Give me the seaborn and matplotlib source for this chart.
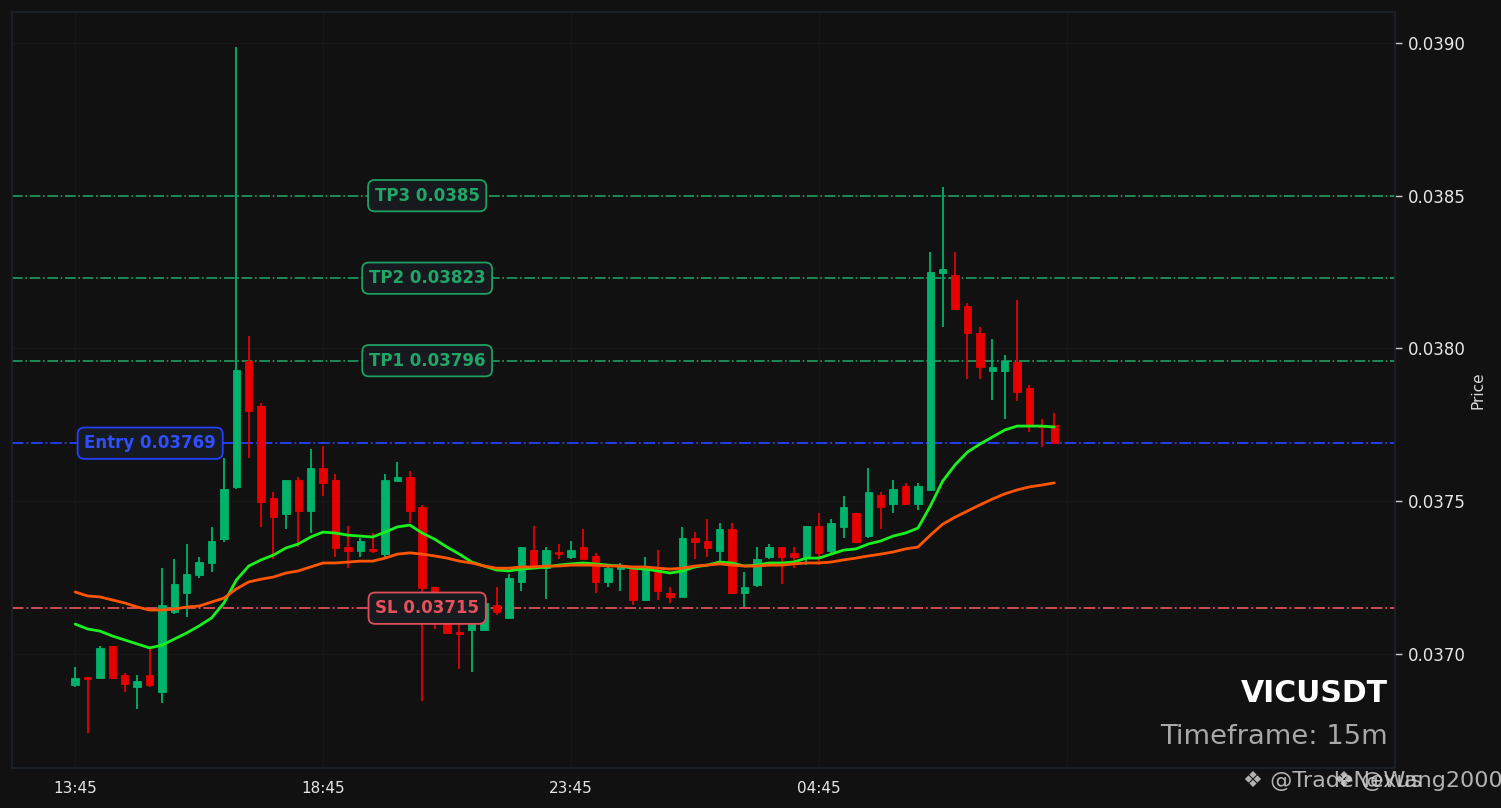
import numpy as np
import pandas as pd
import matplotlib
matplotlib.use("Agg")
import matplotlib.pyplot as plt
import seaborn as sns

# candle data (15m)
opens = [0.036899, 0.036921, 0.036921, 0.037026, 0.036931, 0.036892, 0.036931, 0.036876, 0.037137, 0.037200,
         0.037259, 0.037298, 0.037376, 0.037546, 0.037959, 0.037812, 0.037511, 0.037458, 0.037570, 0.037468,
         0.037609, 0.037570, 0.037350, 0.037337, 0.037340, 0.037327, 0.037566, 0.037579, 0.037481, 0.037219,
         0.037128, 0.037072, 0.037079, 0.037079, 0.037160, 0.037118, 0.037236, 0.037340, 0.037281, 0.037329,
         0.037317, 0.037350, 0.037321, 0.037236, 0.037278, 0.037281, 0.037177, 0.037268, 0.037200, 0.037187,
         0.037380, 0.037370, 0.037337, 0.037409, 0.037200, 0.037226, 0.037317, 0.037350, 0.037331, 0.037317,
         0.037419, 0.037337, 0.037416, 0.037461, 0.037386, 0.037520, 0.037491, 0.037550, 0.037491, 0.037537,
         0.038247, 0.038240, 0.038139, 0.038051, 0.037927, 0.037927, 0.037956, 0.037871, 0.037746, 0.037750]
highs = [0.036957, 0.036921, 0.037026, 0.037026, 0.036938, 0.036931, 0.037026, 0.037281, 0.037311, 0.037360,
         0.037317, 0.037416, 0.037641, 0.038987, 0.038041, 0.037822, 0.037530, 0.037570, 0.037579, 0.037671,
         0.037681, 0.037589, 0.037419, 0.037380, 0.037396, 0.037589, 0.037628, 0.037599, 0.037488, 0.037219,
         0.037137, 0.037118, 0.037160, 0.037177, 0.037219, 0.037262, 0.037350, 0.037419, 0.037350, 0.037360,
         0.037370, 0.037409, 0.037331, 0.037285, 0.037298, 0.037281, 0.037317, 0.037340, 0.037219, 0.037416,
         0.037399, 0.037442, 0.037429, 0.037429, 0.037268, 0.037350, 0.037360, 0.037350, 0.037350, 0.037419,
         0.037461, 0.037442, 0.037517, 0.037461, 0.037609, 0.037530, 0.037570, 0.037560, 0.037560, 0.038316,
         0.038528, 0.038316, 0.038149, 0.038070, 0.038031, 0.037979, 0.038159, 0.037880, 0.037769, 0.037789]
lows = [0.036892, 0.036741, 0.036921, 0.036921, 0.036876, 0.036820, 0.036892, 0.036840, 0.037131, 0.037121,
        0.037249, 0.037268, 0.037367, 0.037540, 0.037641, 0.037416, 0.037311, 0.037409, 0.037350, 0.037396,
        0.037517, 0.037317, 0.037281, 0.037317, 0.037331, 0.037317, 0.037566, 0.037429, 0.036846, 0.037082,
        0.037069, 0.036951, 0.036941, 0.037079, 0.037128, 0.037118, 0.037206, 0.037288, 0.037180, 0.037311,
        0.037311, 0.037311, 0.037200, 0.037219, 0.037206, 0.037160, 0.037177, 0.037177, 0.037167, 0.037187,
        0.037311, 0.037317, 0.037301, 0.037200, 0.037154, 0.037219, 0.037311, 0.037229, 0.037281, 0.037291,
        0.037291, 0.037331, 0.037380, 0.037367, 0.037380, 0.037409, 0.037461, 0.037491, 0.037471, 0.037537,
        0.038070, 0.038129, 0.037900, 0.037900, 0.037831, 0.037769, 0.037828, 0.037727, 0.037678, 0.037691]
closes = [0.036921, 0.036918, 0.037020, 0.036921, 0.036902, 0.036912, 0.036899, 0.037160, 0.037229, 0.037262,
          0.037301, 0.037370, 0.037540, 0.037930, 0.037795, 0.037497, 0.037448, 0.037570, 0.037468, 0.037609,
          0.037560, 0.037347, 0.037337, 0.037370, 0.037337, 0.037570, 0.037579, 0.037468, 0.037216, 0.037128,
          0.037069, 0.037065, 0.037137, 0.037167, 0.037137, 0.037249, 0.037350, 0.037288, 0.037340, 0.037327,
          0.037340, 0.037311, 0.037236, 0.037281, 0.037285, 0.037177, 0.037281, 0.037206, 0.037187, 0.037380,
          0.037367, 0.037347, 0.037409, 0.037200, 0.037219, 0.037311, 0.037350, 0.037317, 0.037317, 0.037419,
          0.037331, 0.037429, 0.037481, 0.037367, 0.037530, 0.037481, 0.037540, 0.037491, 0.037550, 0.038250,
          0.038260, 0.038129, 0.038051, 0.037940, 0.037940, 0.037959, 0.037858, 0.037750, 0.037743, 0.037691]

# moving averages as drawn (fast = green, slow = orange)
ma_fast = [0.037098, 0.037082, 0.037075, 0.037059, 0.037046, 0.037033, 0.037020, 0.037029, 0.037049, 0.037069,
           0.037092, 0.037118, 0.037167, 0.037242, 0.037288, 0.037308, 0.037324, 0.037347, 0.037360, 0.037383,
           0.037399, 0.037396, 0.037389, 0.037386, 0.037383, 0.037399, 0.037416, 0.037422, 0.037396, 0.037376,
           0.037350, 0.037327, 0.037301, 0.037288, 0.037275, 0.037272, 0.037278, 0.037281, 0.037285, 0.037291,
           0.037295, 0.037298, 0.037295, 0.037291, 0.037288, 0.037281, 0.037278, 0.037272, 0.037265, 0.037272,
           0.037285, 0.037291, 0.037301, 0.037298, 0.037288, 0.037291, 0.037298, 0.037298, 0.037301, 0.037314,
           0.037314, 0.037327, 0.037340, 0.037344, 0.037360, 0.037370, 0.037386, 0.037396, 0.037412, 0.037484,
           0.037566, 0.037619, 0.037661, 0.037687, 0.037710, 0.037733, 0.037746, 0.037746, 0.037746, 0.037743]
ma_slow = [0.037203, 0.037190, 0.037187, 0.037177, 0.037167, 0.037154, 0.037144, 0.037144, 0.037147, 0.037154,
           0.037157, 0.037170, 0.037183, 0.037213, 0.037236, 0.037245, 0.037252, 0.037265, 0.037272, 0.037285,
           0.037298, 0.037298, 0.037301, 0.037304, 0.037304, 0.037314, 0.037327, 0.037331, 0.037327, 0.037321,
           0.037314, 0.037304, 0.037298, 0.037288, 0.037281, 0.037281, 0.037285, 0.037285, 0.037288, 0.037288,
           0.037291, 0.037291, 0.037291, 0.037288, 0.037288, 0.037285, 0.037285, 0.037281, 0.037278, 0.037281,
           0.037288, 0.037291, 0.037295, 0.037291, 0.037288, 0.037288, 0.037291, 0.037291, 0.037295, 0.037298,
           0.037298, 0.037301, 0.037308, 0.037314, 0.037321, 0.037327, 0.037334, 0.037344, 0.037350, 0.037389,
           0.037425, 0.037448, 0.037468, 0.037488, 0.037507, 0.037524, 0.037537, 0.037547, 0.037553, 0.037560]

tick_pos = [0, 20, 40, 60, 80]
tick_labels = ["13:45", "18:45", "23:45", "04:45", ""]

entry = 0.03769
stop_loss = 0.03715
tp_levels = [0.03796, 0.03823, 0.0385]
tp_names = ["TP1", "TP2", "TP3"]

symbol = "VICUSDT"
timeframe = "15m"

df = pd.DataFrame({"open": opens, "high": highs, "low": lows, "close": closes,
                   "ma_fast": ma_fast, "ma_slow": ma_slow})
df["idx"] = np.arange(len(df))

BG = "#111111"
UP = "#00b36c"
DOWN = "#e60000"

sns.set_theme(style="dark", rc={
    "figure.facecolor": BG, "axes.facecolor": BG,
    "axes.edgecolor": "#1c222a", "grid.color": "#171717",
    "text.color": "#e6e6e6", "xtick.color": "#e6e6e6", "ytick.color": "#e6e6e6",
    "axes.labelcolor": "#e6e6e6",
})
plt.rcParams["font.family"] = ["DejaVu Sans"]

fig = plt.figure(figsize=(15.01, 8.08), dpi=100)
ax = fig.add_axes([0.008, 0.0495, 0.9214, 0.9356])

up = df["close"] >= df["open"]
colors = np.where(up, UP, DOWN)

# wicks
ax.vlines(df["idx"], df["low"], df["high"], colors=colors, linewidth=1.3, zorder=2)
# bodies
body = (df["close"] - df["open"]).abs().clip(lower=0.000006)
bottom = df[["open", "close"]].min(axis=1)
ax.bar(df["idx"], body, bottom=bottom, width=0.6, color=colors,
       edgecolor=colors, linewidth=0.6, zorder=3)

# moving averages
sns.lineplot(data=df, x="idx", y="ma_fast", ax=ax, color="#19f01e", linewidth=2, zorder=4)
sns.lineplot(data=df, x="idx", y="ma_slow", ax=ax, color="#ff5500", linewidth=2, zorder=4)

# level lines + labels
tp_col = "#1f9e63"
for lvl, name in zip(tp_levels, tp_names):
    ax.axhline(lvl, color=tp_col, linestyle="-.", linewidth=1.2, zorder=1)
    ax.text(28.4, lvl, f"{name} {lvl:g}", color="#22a668", fontsize=12, fontweight="bold",
            ha="center", va="center", zorder=6,
            bbox=dict(boxstyle="round,pad=0.4", fc="#161a1f", ec=tp_col, lw=1.3))

ax.axhline(entry, color="#2340ff", linestyle="-.", linewidth=1.3, zorder=1)
ax.text(6.05, entry, f"Entry {entry:g}", color="#2f4fff", fontsize=12, fontweight="bold",
        ha="center", va="center", zorder=6,
        bbox=dict(boxstyle="round,pad=0.4", fc="#161a22", ec="#2340ff", lw=1.3))

ax.axhline(stop_loss, color="#de4f5a", linestyle="-.", linewidth=1.3, zorder=1)
ax.text(28.4, stop_loss, f"SL {stop_loss:g}", color="#e8505b", fontsize=12, fontweight="bold",
        ha="center", va="center", zorder=6,
        bbox=dict(boxstyle="round,pad=0.4", fc="#171a1f", ec="#de4f5a", lw=1.3))

# axes
ax.set_xlim(-5.1, 106.5)
ax.set_ylim(0.036627, 0.039101)
ax.set_xticks(tick_pos)
ax.set_xticklabels(tick_labels, fontsize=11)
ax.yaxis.tick_right()
ax.yaxis.set_label_position("right")
ax.set_yticks([0.0370, 0.0375, 0.0380, 0.0385, 0.0390])
ax.yaxis.set_major_formatter(matplotlib.ticker.FormatStrFormatter("%.4f"))
ax.tick_params(axis="y", labelsize=12, length=5, width=1, color="#cccccc", pad=4)
ax.tick_params(axis="x", length=5, width=1, color="#cccccc", pad=4)
ax.set_xlabel("")
ax.set_ylabel("Price", fontsize=11, labelpad=4, color="#d8d8d8")
ax.grid(True, color="#171717", linewidth=0.8)
for s in ax.spines.values():
    s.set_color("#1c222a")

# symbol / timeframe
ax.text(0.995, 0.098, symbol, transform=ax.transAxes, ha="right", va="center",
        fontsize=21.5, fontweight="bold", color="white", zorder=7)
ax.text(0.995, 0.041, f"Timeframe: {timeframe}", transform=ax.transAxes, ha="right", va="center",
        fontsize=19.7, color="#a8a8a8", zorder=7)

# watermarks (they overlap in the source image as well)
fig.text(0.828, 0.033, "\u2756 @TradeNexus", fontsize=16, color="#d0d0d0", alpha=0.85, va="center")
fig.text(0.889, 0.033, "\u2756 @Wang2000", fontsize=16, color="#d0d0d0", alpha=0.85, va="center")

fig.savefig("out.png", dpi=100, facecolor=BG)
